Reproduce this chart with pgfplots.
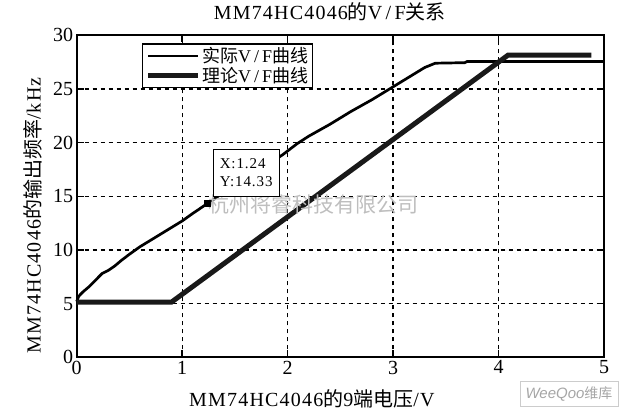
\documentclass[border=0pt]{standalone}
\usepackage{fontspec}
\usepackage{pgfplots}
\pgfplotsset{compat=1.18}
\setmainfont{Liberation Serif}
\newfontfamily\lsp{Liberation Serif}[LetterSpace=6]
\newfontfamily\cjk{Noto Sans CJK SC}
\newfontfamily\lsans{Liberation Sans}
\newcommand\zh[1]{{\cjk #1}}
\definecolor{wm}{RGB}{190,190,190}

\pgfplotstableread{
x y
0 5.2
0.02 5.7
0.06 6.1
0.12 6.6
0.18 7.2
0.24 7.8
0.30 8.1
0.36 8.5
0.42 9.0
0.50 9.6
0.60 10.3
0.70 10.9
0.80 11.5
0.90 12.1
1.00 12.7
1.10 13.4
1.24 14.33
1.40 15.4
1.60 16.7
1.80 17.9
1.95 18.85
2.09 19.9
2.20 20.6
2.40 21.7
2.60 22.9
2.80 24.0
3.00 25.2
3.10 25.8
3.20 26.4
3.30 27.0
3.40 27.4
3.68 27.45
3.70 27.55
5.00 27.55
}\actual

\pgfplotstableread{
x y
0 5.15
0.90 5.15
4.09 28.15
4.88 28.15
}\theory

\begin{document}
\begin{tikzpicture}
\begin{axis}[
  scale only axis,
  width=527.3bp, height=322bp,
  xmin=0, xmax=5, ymin=0, ymax=30,
  xtick={0,1,2,3,4,5}, ytick={0,5,10,15,20,25,30},
  xtick pos=both, ytick pos=both, tick align=inside,
  major tick length=7bp,
  every tick/.style={black, line width=1.5bp},
  axis line style={line width=2.2bp},
  grid=major,
  major grid style={black, line width=1.2bp, dash pattern=on 4.5bp off 3.5bp},
  tick label style={font=\fontsize{20bp}{24bp}\selectfont},
  /pgf/number format/assume math mode=true,
  title={{\lsp MM74HC4046}\zh{的}{\lsp V\,/\,F}\zh{关系}},
  title style={font=\fontsize{20bp}{24bp}\selectfont, at={(axis description cs:0.48,1.031)}, anchor=base},
  xlabel={{\lsp MM74HC4046}\zh{的}{\lsp 9}\zh{端电压}{\lsp /V}},
  xlabel style={font=\fontsize{20bp}{24bp}\selectfont, at={(axis description cs:0.446,-0.1534)}, anchor=base},
  ylabel={{\lsp MM74HC4046}\zh{的输出频率}{\lsp /kHz}},
  ylabel style={font=\fontsize{20bp}{24bp}\selectfont, at={(axis description cs:-0.0683,0.44)}, anchor=base},
  legend style={at={(0.1233,0.975)}, anchor=north west, draw=black, line width=1.6bp,
    font=\fontsize{18bp}{20bp}\selectfont, inner xsep=3bp, inner ysep=2bp, row sep=0bp,
    nodes={inner sep=1.5bp}},
  legend cell align=left,
  legend image code/.code={\draw[#1] (0bp,0bp) -- (50bp,0bp);},
  clip=false,
]
\addplot[black, line width=2.7bp] table[x=x, y=y] {\actual};
\addlegendentry{\zh{实际}{\lsp V\,/\,F}\zh{曲线}}
\addplot[black!90, line width=5bp] table[x=x, y=y] {\theory};
\addlegendentry{\zh{理论}{\lsp V\,/\,F}\zh{曲线}}
\addplot[only marks, mark=square*, mark size=3.2bp, black] coordinates {(1.24,14.33)};
\node[anchor=west, text=wm, font=\cjk\fontsize{21bp}{24bp}\selectfont, inner sep=0pt] at (axis cs:1.25,14.2) {杭州将睿科技有限公司};
\node[draw=black, line width=0.8bp, fill=white, anchor=north west, align=left,
      minimum width=66bp, minimum height=47bp, inner xsep=4bp,
      font=\fontsize{15bp}{18bp}\selectfont] at (axis cs:1.29,19.41) {{\lsp X:1.24}\\{\lsp Y:14.33}};
\node[draw=black!20, line width=0.8bp, fill=white, minimum width=98bp, minimum height=25bp,
      inner sep=1bp] at (axis cs:4.668,-3.45)
      {\textcolor{black!35}{\lsans\itshape\fontsize{15bp}{18bp}\selectfont WeeQoo}\textcolor{black!35}{\cjk\fontsize{14bp}{18bp}\selectfont 维库}};
\coordinate (O) at (rel axis cs:0,0);
\end{axis}
\pgfresetboundingbox
\path[use as bounding box] (O) ++(-76.7bp,-55.7bp) rectangle ++(627bp,413bp);
\end{tikzpicture}
\end{document}
